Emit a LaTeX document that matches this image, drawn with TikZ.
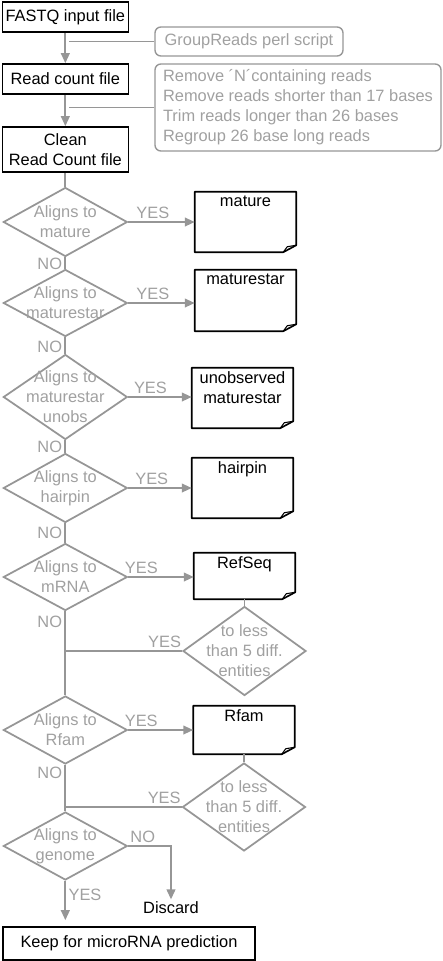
\documentclass[tikz,border=0pt]{standalone}
\usepackage{fontspec}
\setmainfont{Liberation Sans}
\usetikzlibrary{shapes.geometric, arrows.meta, positioning}
\definecolor{flowgray}{RGB}{150,150,150}
\definecolor{labelgray}{RGB}{160,160,160}

\begin{document}
\begin{tikzpicture}[
  every node/.style={font=\fontsize{14}{17}\selectfont},
  filebox/.style={rectangle, draw=black, line width=1.4pt, minimum width=3.78cm, align=center, inner sep=2pt},
  notebox/.style={rectangle, draw=flowgray, line width=1.2pt, rounded corners=5pt, align=left, text=labelgray, inner sep=2pt},
  decision/.style={diamond, draw=flowgray, line width=1.5pt, minimum width=3.72cm, inner sep=0pt},
  dectext/.style={align=center, text=labelgray, inner sep=0pt},
  docbox/.style={rectangle, minimum width=3.03cm, inner sep=0pt},
  doctext/.style={align=center, anchor=north, inner sep=3pt},
  flow/.style={draw=flowgray, line width=1.6pt},
  flowarrow/.style={flow, -{Triangle[length=0.3cm, width=0.26cm]}},
  answer/.style={text=labelgray, inner sep=2pt}
]
  \useasboundingbox (0,0) rectangle (13.29,-28.83);

  % Input files
  \node[filebox, minimum height=0.9cm] (fastq) at (1.96,-0.51) {FASTQ input file};
  \node[filebox, minimum height=0.9cm] (read) at (1.96,-2.37) {Read count file};
  \node[filebox, minimum height=1.35cm] (clean) at (1.96,-4.485) {Clean\\Read Count file};

  % Processing notes
  \node[notebox, minimum width=5.64cm, minimum height=0.87cm] (group) at (7.47,-1.245) {GroupReads perl script};
  \node[notebox, minimum width=8.58cm, minimum height=2.61cm] (rules) at (8.94,-3.225)
    {Remove ´N´containing reads\\Remove reads shorter than 17 bases\\Trim reads longer than 26 bases\\Regroup 26 base long reads};

  % Decisions
  \node[decision, minimum height=2.07cm, label={[dectext]center:Aligns to\\mature}] (d1) at (1.96,-6.66) {};
  \node[decision, minimum height=2.01cm, label={[dectext]center:Aligns to\\maturestar}] (d2) at (1.96,-9.09) {};
  \node[decision, minimum height=2.55cm, label={[dectext]center:Aligns to\\maturestar\\unobs}] (d3) at (1.96,-11.91) {};
  \node[decision, minimum height=2.07cm, label={[dectext]center:Aligns to\\hairpin}] (d4) at (1.96,-14.64) {};
  \node[decision, minimum height=2.01cm, label={[dectext]center:Aligns to\\mRNA}] (d5) at (1.96,-17.31) {};
  \node[decision, minimum height=2.04cm, label={[dectext]center:Aligns to\\Rfam}] (d6) at (1.96,-21.9) {};
  \node[decision, minimum height=2.04cm, label={[dectext]center:Aligns to\\genome}] (d7) at (1.96,-25.38) {};
  \node[decision, minimum width=3.69cm, minimum height=2.67cm, label={[dectext]center:to less\\than 5 diff.\\entities}] (e1) at (7.335,-19.53) {};
  \node[decision, minimum width=3.69cm, minimum height=2.64cm, label={[dectext]center:to less\\than 5 diff.\\entities}] (e2) at (7.32,-24.21) {};

  % Result documents
  \node[docbox, minimum height=1.8cm, label={[doctext]north:mature}] (mat) at (7.365,-6.66) {};
  \node[docbox, minimum height=1.83cm, label={[doctext]north:maturestar}] (mst) at (7.365,-9.015) {};
  \node[docbox, minimum height=1.8cm, label={[doctext]north:unobserved\\maturestar}] (unob) at (7.275,-11.94) {};
  \node[docbox, minimum height=1.8cm, label={[doctext]north:hairpin}] (hp) at (7.275,-14.64) {};
  \node[docbox, minimum height=1.38cm, label={[doctext]north:RefSeq}] (rs) at (7.335,-17.28) {};
  \node[docbox, minimum height=1.44cm, label={[doctext]north:Rfam}] (rf) at (7.32,-21.9) {};
  \foreach \n in {mat,mst,unob,hp,rs,rf}{
    \draw[line width=1.4pt, line join=round] (\n.north west) -- (\n.north east) -- ([yshift=0.21cm]\n.south east)
      -- ([xshift=-0.39cm]\n.south east) -- (\n.south west) -- cycle;
    \draw[line width=0.9pt, line join=round] ([xshift=-0.39cm]\n.south east) -- ++(0.12,0.165) -- ([yshift=0.21cm]\n.south east);
  }

  % Outputs
  \node[inner sep=2pt] (discard) at (5.13,-27.24) {Discard};
  \node[filebox, minimum width=7.56cm, minimum height=0.99cm] (keep) at (3.87,-28.305) {Keep for microRNA prediction};

  % Main flow
  \draw[flowarrow] (fastq) -- (read);
  \draw[flowarrow] (read) -- (clean);
  \draw[flow] (group.west) -- ([xshift=0.12cm]group.west -| fastq.south);
  \draw[flow] (rules.west) -- ([xshift=0.12cm]rules.west -| read.south);
  \draw[flow] (clean) -- (d1);
  \draw[flow] (d1) -- node[answer, left, pos=0.55] {NO} (d2);
  \draw[flow] (d2) -- node[answer, left, pos=0.6] {NO} (d3);
  \draw[flow] (d3) -- node[answer, left, pos=0.55] {NO} (d4);
  \draw[flow] (d4) -- node[answer, left, pos=0.5] {NO} (d5);
  \draw[flow] (d5) -- node[answer, left, pos=0.13] {NO} (d6);
  \draw[flow] (d6) -- node[answer, left, pos=0.18] {NO} (d7);

  % YES branches
  \draw[flowarrow] (d1.east) -- node[answer, above, pos=0.37] {YES} (d1.east -| mat.west);
  \draw[flowarrow] (d2.east) -- node[answer, above, pos=0.37] {YES} (d2.east -| mst.west);
  \draw[flowarrow] (d3.east) -- node[answer, above, pos=0.35] {YES} (d3.east -| unob.west);
  \draw[flowarrow] (d4.east) -- node[answer, above, pos=0.37] {YES} (d4.east -| hp.west);
  \draw[flowarrow] (d5.east) -- node[answer, above, pos=0.2] {YES} (d5.east -| rs.west);
  \draw[flowarrow] (d6.east) -- node[answer, above, pos=0.2] {YES} (d6.east -| rf.west);

  % Entity checks
  \draw[flow] (rs) -- (e1);
  \draw[flow] (rf) -- (e2);
  \draw[flow] (e1.west) -- node[answer, above, pos=0.15] {YES} (e1.west -| d5.south);
  \draw[flow] (e2.west) -- node[answer, above, pos=0.15] {YES} (e2.west -| d6.south);

  % Genome
  \draw[flowarrow] (d7.east) -| node[answer, above, pos=0.17] {NO} (discard.north);
  \draw[flowarrow, shorten >=0.18cm] (d7.south) -- node[answer, right, pos=0.3] {YES} (d7.south |- keep.north);
\end{tikzpicture}
\end{document}
